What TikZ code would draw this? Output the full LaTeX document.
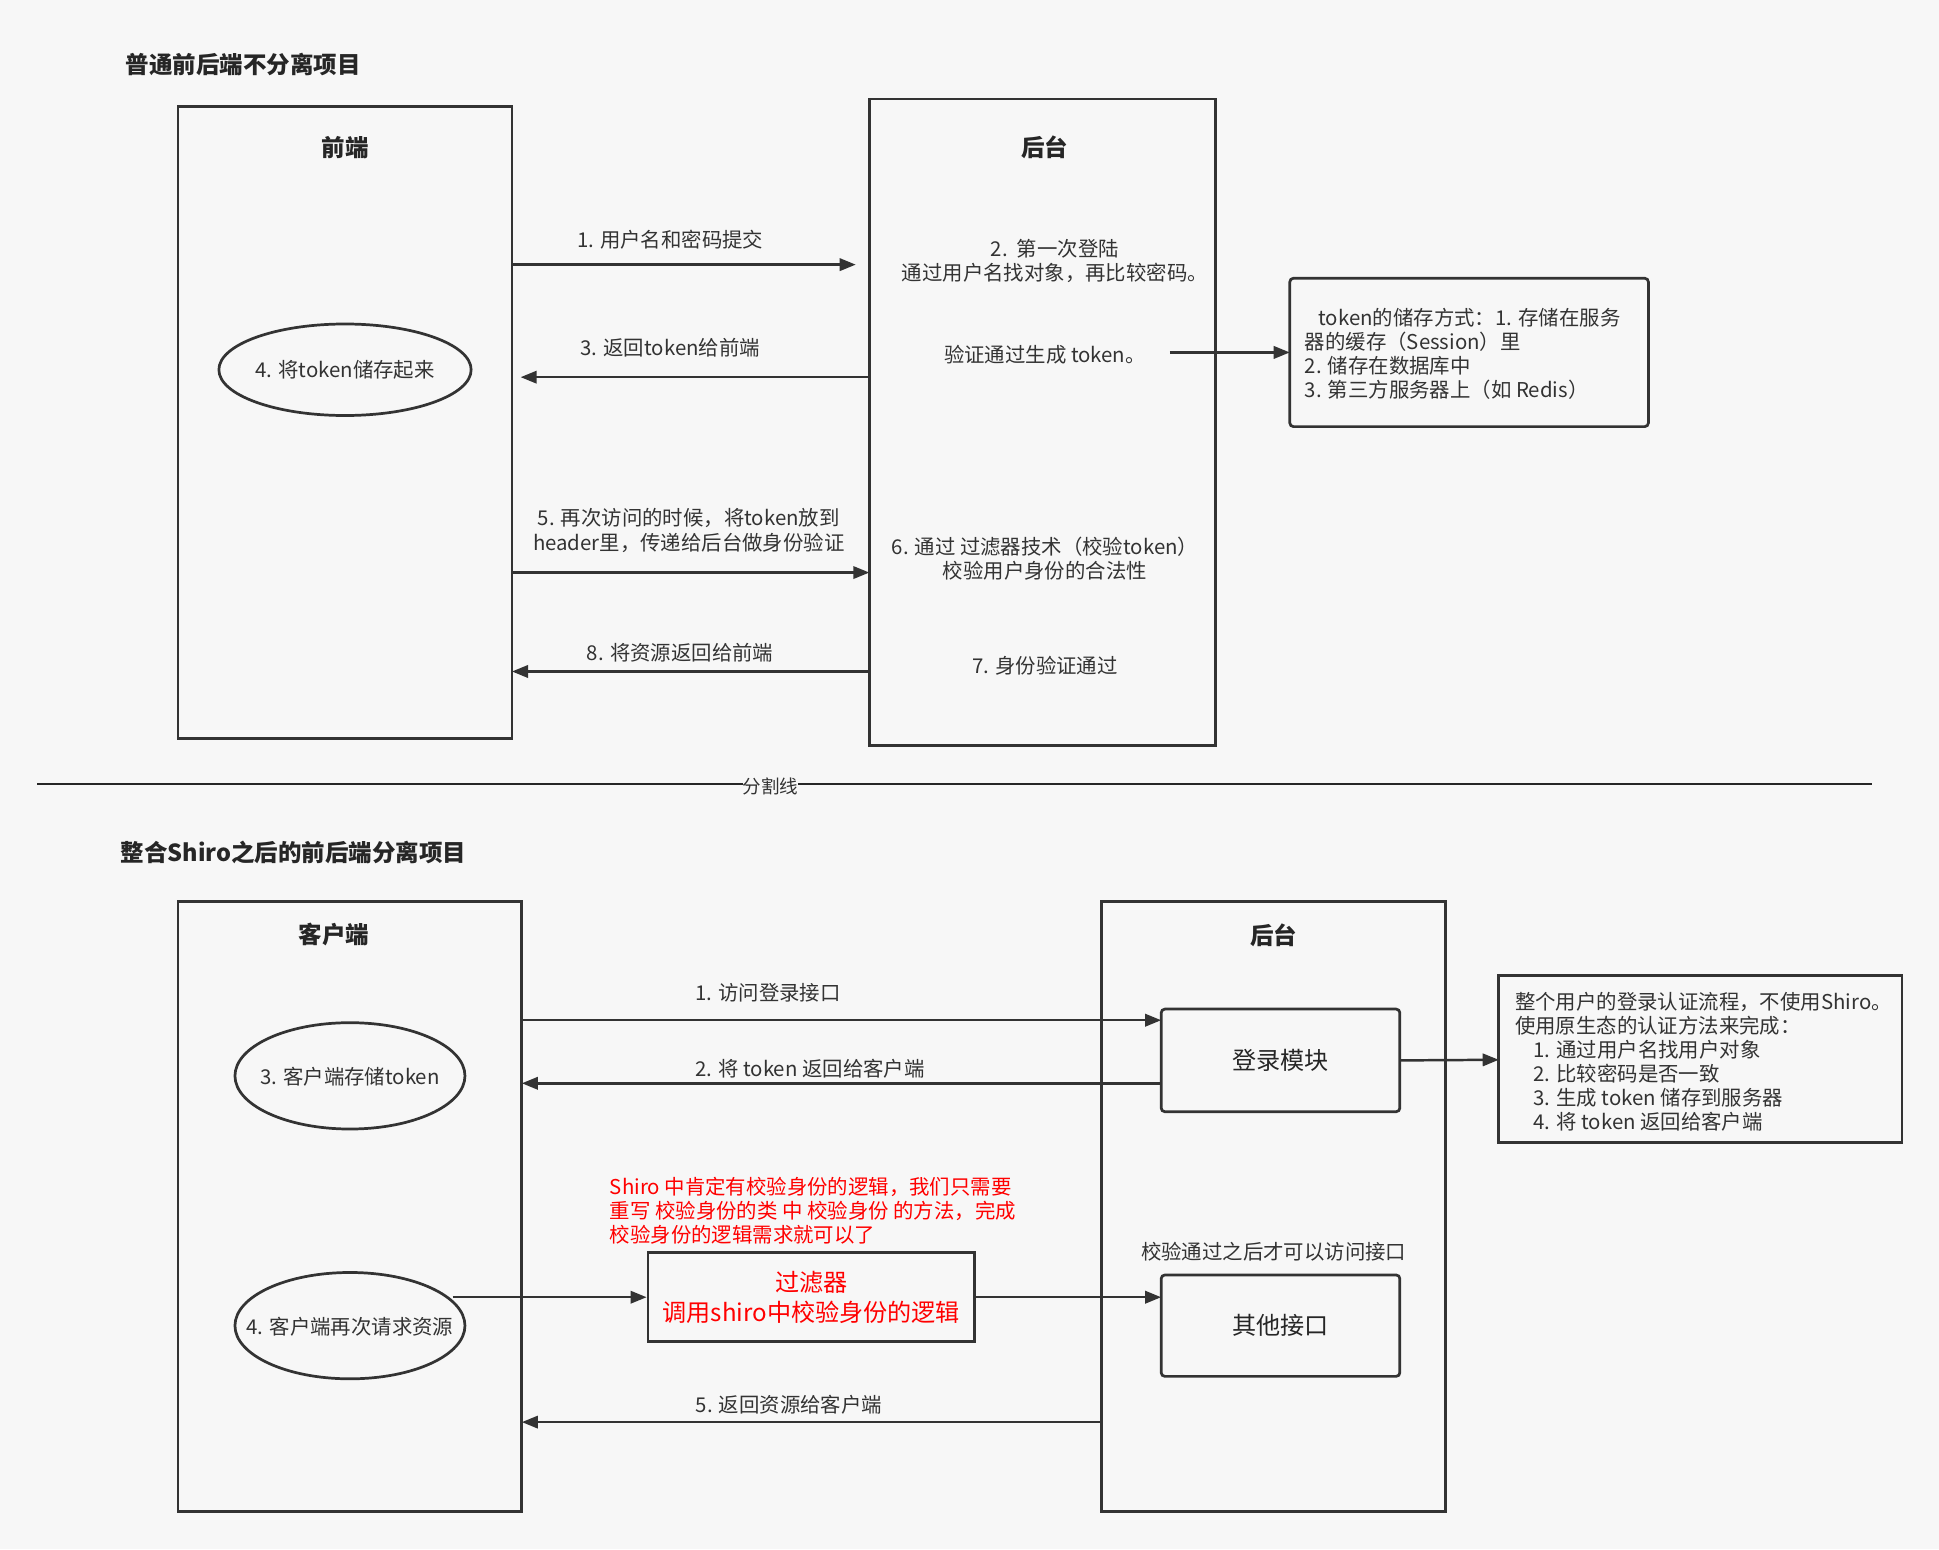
\documentclass[tikz,border=0pt]{standalone}
\usepackage{fontspec}
\setmainfont{Noto Sans CJK SC}
\usetikzlibrary{arrows.meta}
\begin{document}
\begin{tikzpicture}[x=1pt,y=-1pt,
  box/.style={draw=black!80,line width=2.2pt},
  rbox/.style={draw=black!80,line width=2.2pt,rounded corners=3pt},
  arr/.style={draw=black!80,line width=2pt,-{Triangle[length=13pt,width=10pt]}},
  t/.style={font=\fontsize{16.5}{19.5}\selectfont,text=black!80,inner sep=1pt},
  big/.style={font=\fontsize{19.5}{24}\selectfont,text=black!85},
  hd/.style={font=\fontsize{19}{23}\selectfont\bfseries,text=black!85}]
\useasboundingbox[fill=white!97!black] (0,0) rectangle (1568,1253);
% ---- top
\node[hd,anchor=west] (title1) at (98,52) {普通前后端不分离项目};
\draw[box] (144,86) rectangle (414,597);
\draw[box] (703,80) rectangle (983,603);
\node[hd] (qd) at (279,119) {前端};
\node[hd] (ht1) at (845,119) {后台};
\draw[draw=black!80,line width=2.2pt] (279,299) ellipse [x radius=102,y radius=37];
\node[t] (e4) at (279,299) {4. 将token储存起来};
\node[coordinate] (a1s) at (414,214) {}; \node[coordinate] (a1e) at (692,214) {};
\draw[arr] (a1s) -- (a1e);
\node[t] (l1) at (542,194) {1. 用户名和密码提交};
\node[t,align=center] (l2) at (853,211) {2.\ \ 第一次登陆\\通过用户名找对象，再比较密码。};
\node[coordinate] (a3s) at (703,305) {}; \node[coordinate] (a3e) at (421,305) {};
\draw[arr] (a3s) -- (a3e);
\node[t] (l3) at (542,281) {3. 返回token给前端};
\node[t] (gen) at (845,287) {验证通过生成 token。};
\draw[rbox] (1043,225) rectangle (1333,345);
\node[coordinate] (tb) at (1043,285) {};\node[coordinate] (gs) at (946,285) {};
\draw[arr] (gs) -- (tb);
\node[t,align=left,anchor=north west] (tok) at (1054,248) {\ \ \ token的储存方式：1. 存储在服务\\器的缓存（Session）里\\2. 储存在数据库中\\3. 第三方服务器上（如 Redis）};
\node[coordinate] (a5s) at (414,463) {}; \node[coordinate] (a5e) at (703,463) {};
\draw[arr] (a5s) -- (a5e);
\node[t,align=center] (l5) at (557,429) {5. 再次访问的时候，将token放到\\header里，传递给后台做身份验证};
\node[t,align=center] (l6) at (845,452) {6. 通过 过滤器技术（校验token）\\校验用户身份的合法性};
\node[coordinate] (a8s) at (703,543) {}; \node[coordinate] (a8e) at (414,543) {};
\draw[arr] (a8s) -- (a8e);
\node[t] (l8) at (550,528) {8. 将资源返回给前端};
\node[t] (l7) at (845,538) {7. 身份验证通过};
% divider
\node[coordinate] (d1) at (30,634) {}; \node[coordinate] (d2) at (1514,634) {};
\draw[black!85,line width=2pt] (d1) -- (d2);
\node[t,fill=white!97!black,inner sep=0pt,font=\fontsize{15}{18}\selectfont] (div) at (623,636) {分割线};
% ---- bottom
\node[hd,anchor=west] (title2) at (94,689) {整合Shiro之后的前后端分离项目};
\draw[box] (144,729) rectangle (422,1222);
\draw[box] (891,729) rectangle (1169,1222);
\node[hd] (kh) at (270,756) {客户端};
\node[hd] (ht2) at (1030,756) {后台};
\draw[draw=black!80,line width=2.2pt] (283,870) ellipse [x radius=93,y radius=43];
\node[t] (e3) at (283,871) {3. 客户端存储token};
\draw[draw=black!80,line width=2.2pt] (283,1072) ellipse [x radius=93,y radius=43];
\node[t] (e4b) at (283,1073) {4. 客户端再次请求资源};
\node[rbox,big,minimum width=193pt,minimum height=83pt] (login) at (1035.5,857.5) {登录模块};
\node[rbox,big,minimum width=193pt,minimum height=82pt] (other) at (1035.5,1072) {其他接口};
\node[box,font=\fontsize{19.5}{24}\selectfont,text=red,align=center,minimum width=264pt,minimum height=72pt] (filter) at (656,1049) {过滤器\\调用shiro中校验身份的逻辑};
\node[coordinate] (b1s) at (422,825) {};\node[coordinate] (b1e) at (939,825) {};
\draw[arr] (b1s) -- (b1e);
\node[t] (m1) at (621,803) {1. 访问登录接口};
\node[coordinate] (b2s) at (939,876) {};\node[coordinate] (b2e) at (422,876) {};
\draw[arr] (b2s) -- (b2e);
\node[t] (m2) at (655,864) {2. 将 token 返回给客户端};
\draw[box] (1212,789) rectangle (1538,924);
\node[coordinate] (nb) at (1212,857) {};
\draw[arr] (login.east) -- (nb);
\node[t,align=left,anchor=north west] (note) at (1224,801) {整个用户的登录认证流程，不使用Shiro。\\使用原生态的认证方法来完成：\\\ \ \ \ 1. 通过用户名找用户对象\\\ \ \ \ 2. 比较密码是否一致\\\ \ \ \ 3. 生成 token 储存到服务器\\\ \ \ \ 4. 将 token 返回给客户端};
\node[t,text=red,align=left,anchor=west] (red) at (492,979) {Shiro 中肯定有校验身份的逻辑，我们只需要\\重写 校验身份的类 中 校验身份 的方法，完成\\校验身份的逻辑需求就可以了};
\node[coordinate] (e4e) at (366,1049) {};
\draw[arr] (e4e) -- (filter.west);
\node[coordinate] (oe) at (939,1049) {};
\draw[arr] (filter.east) -- (oe);
\node[t] (pass) at (1030,1012) {校验通过之后才可以访问接口};
\node[coordinate] (b5s) at (891,1150) {};\node[coordinate] (b5e) at (422,1150) {};
\draw[arr] (b5s) -- (b5e);
\node[t] (m5) at (638,1136) {5. 返回资源给客户端};
\end{tikzpicture}
\end{document}
